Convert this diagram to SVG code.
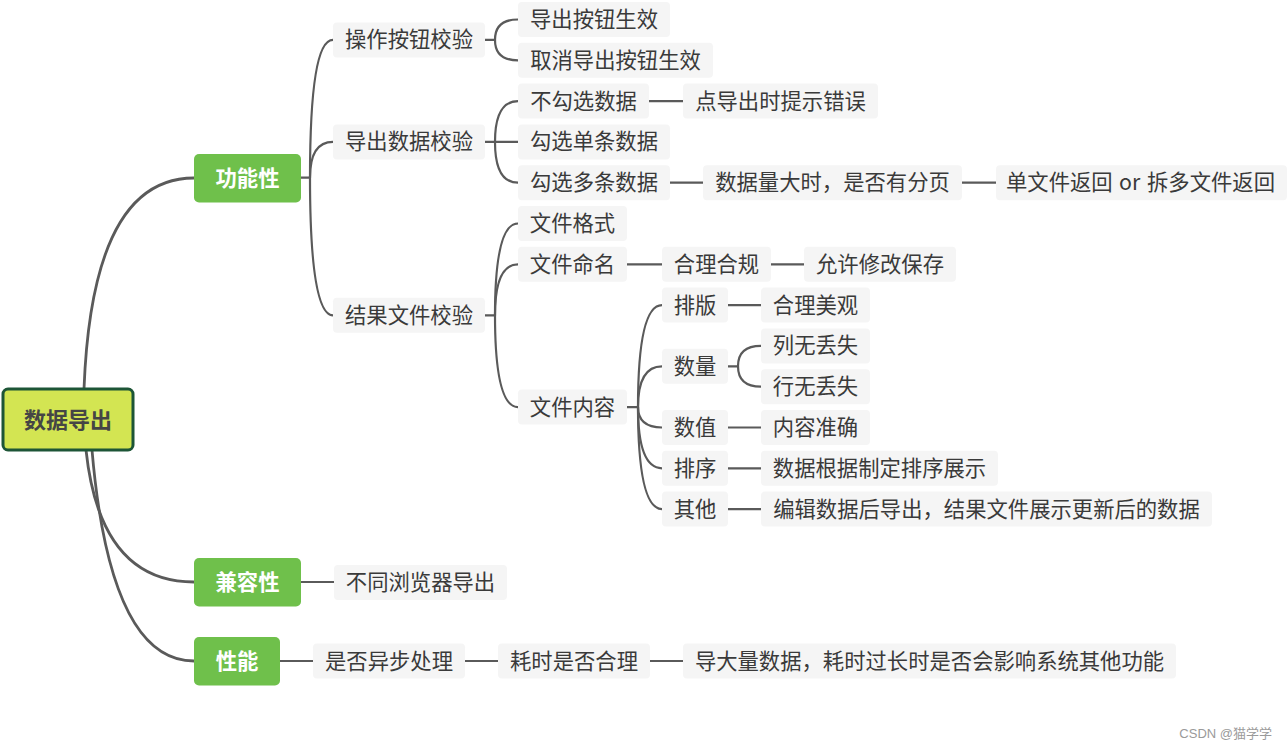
<svg xmlns="http://www.w3.org/2000/svg" width="1288" height="750" viewBox="0 0 1288 750">
<style>
.bx{fill:#f5f5f5;}
.t{font-family:"Noto Sans CJK SC","Liberation Sans",sans-serif;font-size:21.33px;fill:#3a3a3a;text-anchor:middle;}
.l1{fill:#6fc04b;}
.t1{font-family:"Noto Sans CJK SC","Liberation Sans",sans-serif;font-size:21.33px;font-weight:bold;fill:#ffffff;text-anchor:middle;}
.c{fill:none;stroke:#5a5a5a;stroke-width:2.2;stroke-linecap:round;}
.cr{fill:none;stroke:#5a5a5a;stroke-width:2.8;stroke-linecap:round;}
</style>
<rect width="1288" height="750" fill="#ffffff"/>
<g id="connectors">
<path class="cr" d="M84 389 Q92 178 194 178"/>
<path class="cr" d="M86 450 Q100 582 194 582"/>
<path class="cr" d="M92 450 Q110 661 194 661"/>
<path class="c" d="M301 177.6 H310"/>
<path class="c" d="M310 177.6 Q310 39.9 333 39.9"/>
<path class="c" d="M310 177.6 Q310 141.9 333 141.9"/>
<path class="c" d="M310 177.6 Q310 315.3 333 315.3"/>
<path class="c" d="M485 39.9 H495"/>
<path class="c" d="M495 39.9 Q495 19.5 518 19.5"/>
<path class="c" d="M495 39.9 Q495 60.3 518 60.3"/>
<path class="c" d="M485 141.9 H518"/>
<path class="c" d="M495 141.9 Q495 101.1 518 101.1"/>
<path class="c" d="M495 141.9 Q495 182.7 518 182.7"/>
<path class="c" d="M649 101.1 H683"/>
<path class="c" d="M670 182.7 H703"/>
<path class="c" d="M962 182.7 H996"/>
<path class="c" d="M485 315.3 H495"/>
<path class="c" d="M495 315.3 Q495 223.5 518 223.5"/>
<path class="c" d="M495 315.3 Q495 264.3 518 264.3"/>
<path class="c" d="M495 315.3 Q495 407.1 518 407.1"/>
<path class="c" d="M627 264.3 H662"/>
<path class="c" d="M771 264.3 H804"/>
<path class="c" d="M627 407.1 H638"/>
<path class="c" d="M638 407.1 Q638 305.1 662 305.1"/>
<path class="c" d="M638 407.1 Q638 366.3 662 366.3"/>
<path class="c" d="M638 407.1 Q638 427.5 662 427.5"/>
<path class="c" d="M638 407.1 Q638 468.3 662 468.3"/>
<path class="c" d="M638 407.1 Q638 509.1 662 509.1"/>
<path class="c" d="M728 305.1 H761"/>
<path class="c" d="M728 366.3 H738"/>
<path class="c" d="M738 366.3 Q738 345.9 761 345.9"/>
<path class="c" d="M738 366.3 Q738 386.7 761 386.7"/>
<path class="c" d="M728 427.5 H761"/>
<path class="c" d="M728 468.3 H761"/>
<path class="c" d="M728 509.1 H761"/>
<path class="c" d="M301 582 H334"/>
<path class="c" d="M280 661 H313"/>
<path class="c" d="M465 661 H498"/>
<path class="c" d="M650 661 H683"/>
</g>
<g id="root">
<rect x="3" y="389" width="130" height="61" rx="5" fill="#d3e552" stroke="#1d5536" stroke-width="3"/>
<text x="68" y="428" font-family="'Noto Sans CJK SC',sans-serif" font-size="22" font-weight="bold" fill="#454545" text-anchor="middle">数据导出</text>
</g>
<g id="n-gongneng"><rect class="l1" x="194" y="154" width="107" height="48.5" rx="5"/><text class="t1" x="247.5" y="185.6">功能性</text></g>
<g id="n-jianrong"><rect class="l1" x="194" y="558" width="107" height="48.5" rx="5"/><text class="t1" x="247.5" y="590">兼容性</text></g>
<g id="n-xingneng"><rect class="l1" x="194" y="637" width="86" height="48.5" rx="5"/><text class="t1" x="237" y="669">性能</text></g>

<g id="n-czan"><rect class="bx" x="333" y="22.4" width="152" height="35" rx="4"/><text class="t" x="409" y="47.4">操作按钮校验</text></g>
<g id="n-dcsj"><rect class="bx" x="333" y="124.4" width="152" height="35" rx="4"/><text class="t" x="409" y="149.4">导出数据校验</text></g>
<g id="n-jgwj"><rect class="bx" x="333" y="297.8" width="152" height="35" rx="4"/><text class="t" x="409" y="322.8">结果文件校验</text></g>

<g id="n-dcan"><rect class="bx" x="518" y="2" width="152" height="35" rx="4"/><text class="t" x="594" y="27">导出按钮生效</text></g>
<g id="n-qxdc"><rect class="bx" x="518" y="42.8" width="195" height="35" rx="4"/><text class="t" x="615.5" y="67.8">取消导出按钮生效</text></g>
<g id="n-bgx"><rect class="bx" x="518" y="83.6" width="131" height="35" rx="4"/><text class="t" x="583.5" y="108.6">不勾选数据</text></g>
<g id="n-tscw"><rect class="bx" x="683" y="83.6" width="195" height="35" rx="4"/><text class="t" x="780.5" y="108.6">点导出时提示错误</text></g>
<g id="n-gxdt"><rect class="bx" x="518" y="124.4" width="152" height="35" rx="4"/><text class="t" x="594" y="149.4">勾选单条数据</text></g>
<g id="n-gxdd"><rect class="bx" x="518" y="165.2" width="152" height="35" rx="4"/><text class="t" x="594" y="190.2">勾选多条数据</text></g>
<g id="n-fy"><rect class="bx" x="703" y="165.2" width="259" height="35" rx="4"/><text class="t" x="832.5" y="190.2">数据量大时，是否有分页</text></g>
<g id="n-fh"><rect class="bx" x="996" y="165.2" width="291" height="35" rx="4"/><text class="t" y="190.2" style="text-anchor:start"><tspan x="1006">单文件返回 </tspan><tspan x="1119">or </tspan><tspan x="1147">拆多文件返回</tspan></text></g>
<g id="n-wjgs"><rect class="bx" x="518" y="206" width="109" height="35" rx="4"/><text class="t" x="572.5" y="231">文件格式</text></g>
<g id="n-wjmm"><rect class="bx" x="518" y="246.8" width="109" height="35" rx="4"/><text class="t" x="572.5" y="271.8">文件命名</text></g>
<g id="n-hlhg"><rect class="bx" x="662" y="246.8" width="109" height="35" rx="4"/><text class="t" x="716.5" y="271.8">合理合规</text></g>
<g id="n-yxxg"><rect class="bx" x="804" y="246.8" width="152" height="35" rx="4"/><text class="t" x="880" y="271.8">允许修改保存</text></g>
<g id="n-wjnr"><rect class="bx" x="518" y="389.6" width="109" height="35" rx="4"/><text class="t" x="572.5" y="414.6">文件内容</text></g>
<g id="n-pb"><rect class="bx" x="662" y="287.6" width="66" height="35" rx="4"/><text class="t" x="695" y="312.6">排版</text></g>
<g id="n-hlmg"><rect class="bx" x="761" y="287.6" width="109" height="35" rx="4"/><text class="t" x="815.5" y="312.6">合理美观</text></g>
<g id="n-sl"><rect class="bx" x="662" y="348.8" width="66" height="35" rx="4"/><text class="t" x="695" y="373.8">数量</text></g>
<g id="n-lwds"><rect class="bx" x="761" y="328.4" width="109" height="35" rx="4"/><text class="t" x="815.5" y="353.4">列无丢失</text></g>
<g id="n-hwds"><rect class="bx" x="761" y="369.2" width="109" height="35" rx="4"/><text class="t" x="815.5" y="394.2">行无丢失</text></g>
<g id="n-sz"><rect class="bx" x="662" y="410" width="66" height="35" rx="4"/><text class="t" x="695" y="435">数值</text></g>
<g id="n-nrzq"><rect class="bx" x="761" y="410" width="109" height="35" rx="4"/><text class="t" x="815.5" y="435">内容准确</text></g>
<g id="n-px"><rect class="bx" x="662" y="450.8" width="66" height="35" rx="4"/><text class="t" x="695" y="475.8">排序</text></g>
<g id="n-pxzs"><rect class="bx" x="761" y="450.8" width="237" height="35" rx="4"/><text class="t" x="879.5" y="475.8">数据根据制定排序展示</text></g>
<g id="n-qt"><rect class="bx" x="662" y="491.6" width="66" height="35" rx="4"/><text class="t" x="695" y="516.6">其他</text></g>
<g id="n-bjsj"><rect class="bx" x="761" y="491.6" width="451" height="35" rx="4"/><text class="t" x="986.5" y="516.6">编辑数据后导出，结果文件展示更新后的数据</text></g>

<g id="n-btll"><rect class="bx" x="334" y="565" width="173" height="35" rx="4"/><text class="t" x="420.5" y="590">不同浏览器导出</text></g>
<g id="n-ybcl"><rect class="bx" x="313" y="643.5" width="152" height="35" rx="4"/><text class="t" x="389" y="668.5">是否异步处理</text></g>
<g id="n-hshl"><rect class="bx" x="498" y="643.5" width="152" height="35" rx="4"/><text class="t" x="574" y="668.5">耗时是否合理</text></g>
<g id="n-ddl"><rect class="bx" x="683" y="643.5" width="493" height="35" rx="4"/><text class="t" x="929.5" y="668.5">导大量数据，耗时过长时是否会影响系统其他功能</text></g>

<text x="1272" y="738" font-family="'Liberation Sans','Noto Sans CJK SC',sans-serif" font-size="13" fill="#9a9a9a" text-anchor="end">CSDN @猫学学</text>
</svg>
